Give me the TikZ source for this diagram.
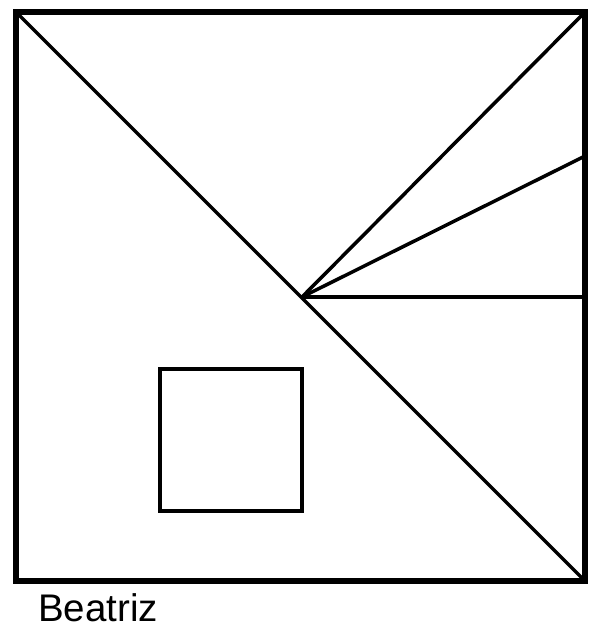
\documentclass[tikz,border=0pt]{standalone}
\usepackage{fontspec}
\setmainfont{Liberation Sans}
\begin{document}
\begin{tikzpicture}[x=1pt,y=-1pt,
  outer/.style={line width=5.5pt,line join=miter},
  inner/.style={line width=3.5pt},
  box/.style={line width=4pt}]
\useasboundingbox (0,0) rectangle (600,633);
\coordinate (TL) at (16,12);
\coordinate (TR) at (585,12);
\coordinate (BR) at (585,581);
\coordinate (BL) at (16,581);
\coordinate (C) at (302,297);
\coordinate (R1) at (585,156);
\coordinate (R2) at (585,297);
\draw[inner] (TL) -- (BR);
\draw[inner] (C) -- (TR);
\draw[inner] (C) -- (R1);
\draw[inner] (C) -- (R2);
\draw[box] (159.5,369) rectangle (302,511);
\draw[outer] (TL) -- (TR) -- (BR) -- (BL) -- cycle;
\node[anchor=base west,inner sep=0pt,font=\fontsize{38.5}{40}\selectfont] (name) at (38,621) {Beatriz};
\end{tikzpicture}
\end{document}
